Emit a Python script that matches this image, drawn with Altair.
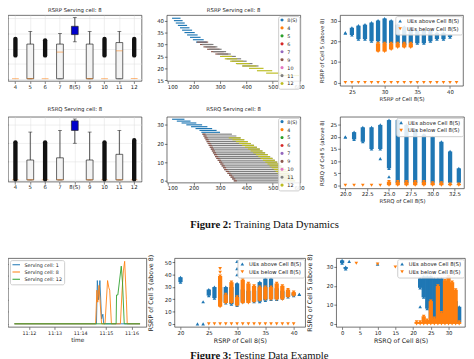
import altair as alt
import pandas as pd

F = "DejaVu Sans"
INK = "#222222"
BLUE = "#1f77b4"
ORANGE = "#ff7f0e"
GREEN = "#2ca02c"

# ---------------- data: box plots ----------------
box_cats = ["4", "5", "6", "7", "8(S)", "9", "10", "11", "12"]
rsrp_q1 = [0, 0, 0, 0, 29.3, 0, 0, 0, 0]
rsrp_q3 = [0, 23, 0, 23, 34.8, 23, 0, 24, 0]
rsrp_med = [0, 0, 0, 17.7, 32, 0, 0, 18.5, 0]
rsrp_wlo = [0, 0, 0, 0, 24.5, 0, 0, 0, 0]
rsrp_whi = [0, 31.4, 0, 30, 40.6, 31.4, 0, 31.4, 0]
flier_cats = ["4", "6", "10", "12"]
rsrp_flier_lo = [15.5, 15.5, 15.5, 15.5]
rsrp_flier_hi = [26.5, 25.5, 26.5, 26.5]

rsrq_q1 = [0, 0, 0, 0, 26.9, 0, 0, 0, 0]
rsrq_q3 = [0, 10.8, 0, 12, 32.1, 10.8, 0, 13.9, 0]
rsrq_med = [0, 0, 0, 0, 30, 0, 0, 0, 0]
rsrq_wlo = [0, 0, 0, 0, 19.9, 0, 0, 0, 0]
rsrq_whi = [0, 26, 0, 26.9, 33.1, 26, 0, 26.9, 0]
rsrq_flier_lo = [0.3, 0.3, 0.3, 0.3]
rsrq_flier_hi = [20.4, 20.4, 20.4, 21.6]

# ---------------- data: segment plots ----------------
seg_series = ["8(S)", "4", "5", "6", "7", "9", "10", "11", "12"]
seg_colors = ["#1f77b4", "#ff7f0e", "#2ca02c", "#d62728", "#9467bd",
              "#8c564b", "#e377c2", "#7f7f7f", "#bcbd22"]

rsrp_s_lv = [41, 40, 39, 38, 37, 36, 35, 34, 33, 32, 31]
rsrp_s_st = [118, 125, 132, 140, 148, 156, 165, 175, 186, 197, 209]
rsrp_s_en = [150, 158, 166, 175, 184, 194, 204, 215, 226, 238, 250]
rsrp_9_lv = [31, 30, 29, 28, 27, 26]
rsrp_9_st = [212, 224, 237, 251, 266, 282]
rsrp_9_en = [255, 268, 283, 298, 314, 331]
rsrp_11_lv = [30, 29, 28, 27, 26, 25, 24, 23, 22, 21]
rsrp_11_st = [232, 245, 259, 274, 290, 307, 325, 344, 364, 385]
rsrp_11_en = [275, 290, 306, 323, 341, 360, 380, 401, 423, 446]
rsrp_12_lv = [25, 24, 23, 22, 21, 20, 19, 18, 17]
rsrp_12_st = [300, 318, 338, 360, 384, 410, 440, 475, 520]
rsrp_12_en = [345, 365, 388, 412, 438, 465, 498, 535, 600]

rsrq_s_lv = [33, 32, 31, 30, 29, 28, 27, 26]
rsrq_s_st = [118, 136, 154, 172, 190, 207, 222, 229]
rsrq_s_en = [165, 188, 210, 232, 252, 270, 287, 300]
rsrq_lv = [25, 24, 23, 22, 21, 20, 19, 18, 17, 16, 15, 14, 13, 12, 11, 10,
           9, 8, 7, 6, 5, 4, 3, 2, 1, 0]
rsrq_st = [233, 237, 241, 245, 249, 253, 257, 261, 265, 269, 273, 277, 281,
           286, 291, 296, 301, 306, 311, 316, 322, 328, 334, 340, 346, 352]
rsrq_en = [345, 362, 378, 392, 405, 417, 429, 440, 451, 461, 471, 481, 490,
           499, 508, 517, 525, 533, 541, 549, 556, 563, 569, 575, 580, 585]
rsrq_red_w = 12
rsrq_yellow_w = 45

# ---------------- data: scatter panels ----------------
GRP = ["UEs above Cell 8(S)", "UEs below Cell 8(S)"]

c_bx = [24, 25, 26, 27, 28, 29, 30, 31, 32, 33, 34, 35, 36, 37, 38, 39, 40]
c_blo = [24, 23, 21, 21, 20, 20, 19, 19, 19, 18, 19, 19, 19, 20, 21, 21, 22]
c_bhi = [24, 26.5, 27.5, 28, 29, 30, 31, 30, 28, 27, 26, 25, 25, 25, 24, 24, 23]
c_bpx, c_bpy = [], []
c_ox = [29, 30, 31, 32, 33, 34]
c_olo = [15, 15, 16, 17, 17, 17]
c_ohi = [19, 19, 19, 19, 19, 19]
c_opx = [24, 25, 26, 27, 28, 29, 30, 31, 32, 33, 34, 35, 36, 37, 38, 39, 40, 41]
c_opy = [0] * 18

f_bx = [20, 21, 22, 23, 24, 25, 26, 27, 28, 29, 30, 31, 32, 33]
f_blo = [20, 19, 18, 15, 15, 7, 1, 1, 1, 1, 1, 1, 1, 1]
f_bhi = [20, 22, 24, 24, 25, 27, 27, 25, 23, 21, 20, 18, 14, 7]
f_bpx = [24, 25]
f_bpy = [11, 3.5]
f_ox = [25, 26, 27, 28, 29, 30, 31, 32, 33]
f_olo = [0, 0, 0, 0, 0, 0, 0, 0, 0]
f_ohi = [1.5, 1.5, 1.5, 1.5, 1.5, 1, 1, 0.5, 0.5]
f_opx = [20, 21, 22, 23, 24]
f_opy = [0, 0, 0, 0, 0]

h_bx = [20, 25, 26, 27, 28, 29, 30, 31, 32, 33, 34, 35, 36, 37, 38, 39, 40, 41]
h_blo = [34, 23, 21, 18, 17, 16, 15, 18, 19, 18, 18, 19, 20, 20, 21, 22, 23, 24]
h_bhi = [38, 28, 30, 30, 30, 30, 33, 28, 27, 27, 34, 37, 37, 29, 27, 26, 25, 24]
h_bpx = [23, 24, 24, 30, 30, 30]
h_bpy = [0, 0, 18, 40, 45, 51]
h_ox = [27, 28, 29, 30, 31, 32, 33, 34, 35, 36, 37, 38, 39, 40]
h_olo = [14, 17, 17, 15, 17, 17, 18, 19, 20, 20, 20, 20, 22, 23]
h_ohi = [39, 24, 34, 22, 36, 33, 31, 30, 30, 30, 33, 31, 28, 26]
h_opx = [27, 27, 25, 26, 27, 28, 29, 30, 31, 32, 33, 34, 35, 36, 37, 38, 39, 40]
h_opy = [42, 45, 0, 0, 0, 0, 0, 0, 0, 0, 0, 0, 0, 0, 0, 0, 0, 0]

i_bx = [0, 1, 22, 23, 24, 25, 26, 27, 28, 29, 30, 31, 32, 33]
i_blo = [32, 29, 19, 14, 8, 3, 2, 2, 1, 1, 1, 1, 1, 1]
i_bhi = [33.5, 30, 24, 25, 25, 25, 24, 24, 24, 22, 20, 15, 12, 9]
i_bpx = [2, 22, 10]
i_bpy = [33, 9, 31.5]
i_ox = [21, 22, 23, 24, 25, 26, 27, 28, 29, 30, 31, 32, 33]
i_olo = [0, 0, 0, 0, 0, 0, 0, 0, 0, 0, 0, 0, 0]
i_ohi = [1, 1, 4, 2, 12, 3, 20, 6, 23, 25, 22, 18, 1]
i_opx = [4, 10, 15]
i_opy = [32, 31.5, 30]

# ---------------- data: time series ----------------
ts_names = ["Serving cell: 1", "Serving cell: 8", "Serving cell: 12"]
g1_t = ["11:11:26", "11:14:38", "11:14:40", "11:14:43", "11:14:46", "11:14:50",
        "11:14:53", "11:14:55", "11:16:20"]
g1_v = [0, 0, 18, 10, 18, 2, 4, 0, 0]
g8_t = ["11:11:26", "11:14:36", "11:14:39", "11:14:41", "11:14:44", "11:14:50",
        "11:14:58", "11:15:04", "11:15:07", "11:15:09", "11:15:13", "11:15:34",
        "11:15:38", "11:15:41", "11:15:44", "11:15:48", "11:15:50", "11:16:20"]
g8_v = [0, 0, 14, 9, 16, 0, 0, 18, 15, 14, 0, 0, 14, 22, 26, 10, 0, 0]
g12_t = ["11:11:26", "11:15:24", "11:15:25", "11:15:28", "11:15:36", "11:15:39",
         "11:15:43", "11:16:20"]
g12_v = [0, 0, 12, 12, 24, 17, 0, 0]
time_ticks = ["11:12", "11:13", "11:14", "11:15", "11:16"]

cap2_bold = ["Figure 2:"]
cap2_rest = ["Training Data Dynamics"]
cap3_bold = ["Figure 3:"]
cap3_rest = ["Testing Data Example"]


# ---------------- helpers ----------------
def ax(**kw):
    d = dict(labelFont=F, titleFont=F, labelColor=INK, titleColor=INK, tickColor=INK,
             tickSize=2.5, tickWidth=0.6, labelPadding=1, domain=False, grid=False,
             titleFontWeight="normal", labelFontSize=5.5, titleFontSize=5.5, titlePadding=2)
    d.update(kw)
    return alt.Axis(**d)


def title_mark(text, w, off, color=INK):
    return alt.Chart(pd.DataFrame({"t": [text]})).mark_text(
        font=F, fontSize=5.5, color=color, align="center", baseline="bottom").encode(
        text="t:N", x=alt.value(w / 2), y=alt.value(-off))


def leg(**kw):
    d = dict(title=None, labelFont=F, labelColor=INK, labelFontSize=5,
             fillColor="rgba(255,255,255,0.85)", strokeColor="#cccccc", padding=2,
             cornerRadius=2, offset=2)
    d.update(kw)
    return alt.Legend(**d)


def indep(ch):
    return ch.resolve_scale(color="independent", shape="independent").resolve_legend(
        color="independent", shape="independent")


def cell(ch):
    return indep(alt.vconcat(ch, spacing=0))


def box_panel(title, q1, q3, med, wlo, whi, flo, fhi, ydom, yvals, h, toff):
    df = pd.DataFrame({"cat": box_cats, "q1": q1, "q3": q3, "med": med, "wlo": wlo, "whi": whi})
    fl = pd.DataFrame({"cat": flier_cats, "lo": flo, "hi": fhi})
    X = alt.X("cat:N", sort=box_cats, scale=alt.Scale(paddingInner=0, paddingOuter=0),
              axis=ax(title=None, labelAngle=0, grid=True, gridColor="#dddddd",
                      gridWidth=0.5, bandPosition=0.5))
    ys = alt.Scale(domain=ydom, nice=False, zero=False)
    yax = ax(title=None, values=yvals, grid=True, gridColor="#dddddd", gridWidth=0.5)

    def Y(f):
        return alt.Y(f, type="quantitative", scale=ys, axis=yax)

    base = alt.Chart(df)
    whisk = base.transform_filter("datum.whi > datum.wlo").mark_rule(
        color=INK, strokeWidth=0.8).encode(x=X, y=Y("wlo"), y2="whi:Q")
    cap_hi = base.transform_filter("datum.whi > datum.wlo").mark_tick(
        color=INK, size=4, thickness=0.8).encode(x=X, y=Y("whi"))
    cap_lo = base.transform_filter("datum.whi > datum.wlo").mark_tick(
        color=INK, size=4, thickness=0.8).encode(x=X, y=Y("wlo"))
    boxes = base.transform_filter("datum.q3 > datum.q1").mark_bar(
        width=7, stroke=INK, strokeWidth=0.7).encode(
        x=X, y=Y("q1"), y2="q3:Q",
        fill=alt.condition("datum.cat == '8(S)'", alt.value("#0000cc"), alt.value("#f3f3f3")))
    meds = base.transform_filter("datum.cat != '8(S)'").mark_tick(
        color=ORANGE, size=7, thickness=0.8).encode(x=X, y=Y("med"))
    fliers = alt.Chart(fl).mark_rule(color="#111111", strokeWidth=4.5, strokeCap="round").encode(
        x=X, y=Y("lo"), y2="hi:Q")
    return alt.layer(whisk, cap_hi, cap_lo, boxes, meds, fliers,
                     title_mark(title, 138, toff)).properties(width=138, height=h)


def seg_rows(series, lv, st, en):
    return pd.DataFrame({"series": series, "level": lv, "start": st, "end": en})


def seg_panel(df, title, ydom, yvals, h, toff):
    X = alt.X("start:Q", scale=alt.Scale(domain=[98, 605], nice=False, zero=False),
              axis=ax(title=None, values=[100, 200, 300, 400, 500, 600]))
    Y = alt.Y("level:Q", scale=alt.Scale(domain=ydom, nice=False, zero=False),
              axis=ax(title=None, values=yvals))
    C = alt.Color("series:N", scale=alt.Scale(domain=seg_series, range=seg_colors),
                  legend=leg(orient="top-right", symbolType="circle", symbolSize=3,
                             rowPadding=2.2, clipHeight=5, labelOffset=3, offset=1,
                             padding=1.5))
    segs = alt.Chart(df).mark_rule(strokeWidth=1.2).encode(x=X, x2="end:Q", y=Y, color=C)
    return alt.layer(segs, title_mark(title, 138, toff)).properties(width=138, height=h)


def scatter_panel(bx, blo, bhi, bpx, bpy, ox, olo, ohi, opx, opy, xdom, xvals, ydom, yvals,
                  xtitle, ytitle, w, h, lab=5.5, tit=5.5, tpad=5.5, xfmt="d"):
    xs = alt.Scale(domain=xdom, nice=False, zero=False)
    ys = alt.Scale(domain=ydom, nice=False, zero=False)
    xa = ax(values=xvals, title=xtitle, labelFontSize=lab, titleFontSize=tit, format=xfmt)
    ya = ax(values=yvals, title=ytitle, labelFontSize=lab, titleFontSize=tit, titlePadding=tpad)
    X = alt.X("x:Q", scale=xs, axis=xa)
    Ylo = alt.Y("lo:Q", scale=ys, axis=ya)
    Yp = alt.Y("y:Q", scale=ys, axis=ya)
    lg = leg(orient="top-right", symbolSize=14, labelFontSize=lab, rowPadding=1, offset=1)
    color = alt.Color("grp:N", scale=alt.Scale(domain=GRP, range=[BLUE, ORANGE]), legend=lg)
    shape = alt.Shape("grp:N", scale=alt.Scale(domain=GRP, range=["triangle-up", "triangle-down"]),
                      legend=lg)
    bcol = pd.DataFrame({"x": bx, "lo": blo, "hi": bhi})
    ocol = pd.DataFrame({"x": ox, "lo": olo, "hi": ohi})
    bpts = pd.DataFrame({"x": bx + bx + bpx, "y": blo + bhi + bpy})
    bpts["grp"] = GRP[0]
    opts = pd.DataFrame({"x": ox + ox + opx, "y": olo + ohi + opy})
    opts["grp"] = GRP[1]
    l1 = alt.Chart(bcol).mark_rule(color=BLUE, strokeWidth=4.4).encode(x=X, y=Ylo, y2="hi:Q")
    l2 = alt.Chart(bpts).mark_point(filled=True, size=14, opacity=1).encode(
        x=X, y=Yp, color=color, shape=shape)
    l3 = alt.Chart(ocol).mark_rule(color=ORANGE, strokeWidth=4.4).encode(x=X, y=Ylo, y2="hi:Q")
    l4 = alt.Chart(opts).mark_point(filled=True, size=14, opacity=1).encode(
        x=X, y=Yp, color=color, shape=shape)
    return alt.layer(l1, l2, l3, l4).properties(width=w, height=h)


def secs(t):
    hh, mm, ss = [int(v) for v in t.split(":")]
    return (hh - 11) * 3600 + mm * 60 + ss


def ts_panel():
    tick_secs = [secs(t + ":00") for t in time_ticks]
    X = alt.X("t:Q", scale=alt.Scale(domain=[671, 995], nice=False, zero=False),
              axis=ax(values=tick_secs, title="time", labelFontSize=5, titleFontSize=6,
                      labelExpr="'11:' + format(datum.value / 60, '02d')"))
    Y = alt.Y("v:Q", scale=alt.Scale(domain=[-1.3, 27.3], nice=False, zero=False),
              axis=ax(title=None, values=[0, 5, 10, 15, 20, 25], labelFontSize=5))
    C = alt.Color("s:N", scale=alt.Scale(domain=ts_names, range=[BLUE, ORANGE, GREEN]),
                  legend=leg(orient="top-left", symbolType="stroke", symbolStrokeWidth=1.2,
                             symbolSize=60, rowPadding=1.5, clipHeight=5.5, offset=2))
    layers = []
    for name, tt, vv in [(ts_names[0], g1_t, g1_v), (ts_names[1], g8_t, g8_v),
                         (ts_names[2], g12_t, g12_v)]:
        d = pd.DataFrame({"t": [secs(t) for t in tt], "v": vv})
        d["s"] = name
        layers.append(alt.Chart(d).mark_line(strokeWidth=0.9).encode(x=X, y=Y, color=C))
    return alt.layer(*layers).properties(width=143, height=71)


def caption(bold, rest, xc, yb, h):
    a = alt.Chart(pd.DataFrame({"t": bold})).mark_text(
        font="Liberation Serif", fontSize=11, fontWeight="bold", align="right",
        baseline="alphabetic", color="#111111").encode(
        text="t:N", x=alt.value(xc), y=alt.value(yb))
    b = alt.Chart(pd.DataFrame({"t": rest})).mark_text(
        font="Liberation Serif", fontSize=11, align="left",
        baseline="alphabetic", color="#111111").encode(
        text="t:N", x=alt.value(xc + 2.5), y=alt.value(yb))
    return alt.layer(a, b).properties(width=460, height=h,
                                      view=alt.ViewBackground(stroke="transparent"))


# ---------------- panels ----------------
A = box_panel("RSRP Serving cell: 8", rsrp_q1, rsrp_q3, rsrp_med, rsrp_wlo, rsrp_whi,
              rsrp_flier_lo, rsrp_flier_hi, [-1.5, 42.2], [0, 10, 20, 30, 40], 68, 2.5)
D = box_panel("RSRQ Serving cell: 8", rsrq_q1, rsrq_q3, rsrq_med, rsrq_wlo, rsrq_whi,
              rsrq_flier_lo, rsrq_flier_hi, [-1.0, 34.3], [0, 10, 20, 30], 67, 4.5)

rsrp_segs = pd.concat([
    seg_rows("8(S)", rsrp_s_lv, rsrp_s_st, rsrp_s_en),
    seg_rows("9", rsrp_9_lv, rsrp_9_st, rsrp_9_en),
    seg_rows("11", rsrp_11_lv, rsrp_11_st, rsrp_11_en),
    seg_rows("12", rsrp_12_lv, rsrp_12_st, rsrp_12_en),
])
B = seg_panel(rsrp_segs, "RSRP Serving cell: 8", [14.7, 42.3], [15, 20, 25, 30, 35, 40], 68, 2.5)

gray = seg_rows("11", rsrq_lv, rsrq_st, rsrq_en)
red = seg_rows("9", rsrq_lv, rsrq_st, [s + rsrq_red_w for s in rsrq_st])
yel = seg_rows("12", rsrq_lv[2:], [e - rsrq_yellow_w for e in rsrq_en[2:]], rsrq_en[2:])
rsrq_segs = pd.concat([seg_rows("8(S)", rsrq_s_lv, rsrq_s_st, rsrq_s_en), gray, red, yel])
E = seg_panel(rsrq_segs, "RSRQ Serving cell: 8", [-1.0, 34.3], [0, 10, 20, 30], 68, 4.5)

C = scatter_panel(c_bx, c_blo, c_bhi, c_bpx, c_bpy, c_ox, c_olo, c_ohi, c_opx, c_opy,
                  [23.2, 42], [25, 30, 35, 40], [-1.6, 32.6], [0, 10, 20, 30],
                  "RSRP of Cell 8(S)", "RSRP of Cell 5 (above 8)", 127, 73)
Fp = scatter_panel(f_bx, f_blo, f_bhi, f_bpx, f_bpy, f_ox, f_olo, f_ohi, f_opx, f_opy,
                   [19.4, 33.6], [20, 22.5, 25, 27.5, 30, 32.5], [-1.35, 28.35],
                   [0, 5, 10, 15, 20, 25], "RSRQ of Cell 8(S)", "RSRQ of Cell 5 (above 8)",
                   128, 74, xfmt=".1f")
G = ts_panel()
H = scatter_panel(h_bx, h_blo, h_bhi, h_bpx, h_bpy, h_ox, h_olo, h_ohi, h_opx, h_opy,
                  [18.95, 42.05], [20, 25, 30, 35, 40], [-2.55, 53.55],
                  [0, 10, 20, 30, 40, 50], "RSRP of Cell 8(S)", "RSRP of Cell 5 (above 8)",
                  135, 71, lab=5.5, tit=6.5, tpad=11)
I = scatter_panel(i_bx, i_blo, i_bhi, i_bpx, i_bpy, i_ox, i_olo, i_ohi, i_opx, i_opy,
                  [-1.65, 34.65], [0, 5, 10, 15, 20, 25, 30], [-1.65, 34.65],
                  [0, 10, 20, 30], "RSRQ of Cell 8(S)", "RSRQ of Cell 5 (above 8)",
                  133, 71, lab=5.5, tit=6.5, tpad=14)

row1 = indep(alt.hconcat(cell(A), cell(B), cell(C), spacing=14))
row2 = indep(alt.hconcat(cell(D), cell(E), cell(Fp), spacing=14))
row3 = indep(alt.hconcat(cell(G), cell(H), cell(I), spacing=0))
cap2 = caption(cap2_bold, cap2_rest, 231, 18, 38)
cap3 = caption(cap3_bold, cap3_rest, 231, 8, 10)

top = indep(alt.vconcat(row1, row2, spacing=5))
chart = indep(alt.vconcat(top, cap2, row3, cap3, spacing=5)).properties(
    padding={"left": -11, "top": -6.5, "right": 0, "bottom": 0},
    background="white",
).configure_view(stroke="#333333", strokeWidth=0.7)

chart.save("out.html", embed_options={"renderer": "svg", "actions": False})
